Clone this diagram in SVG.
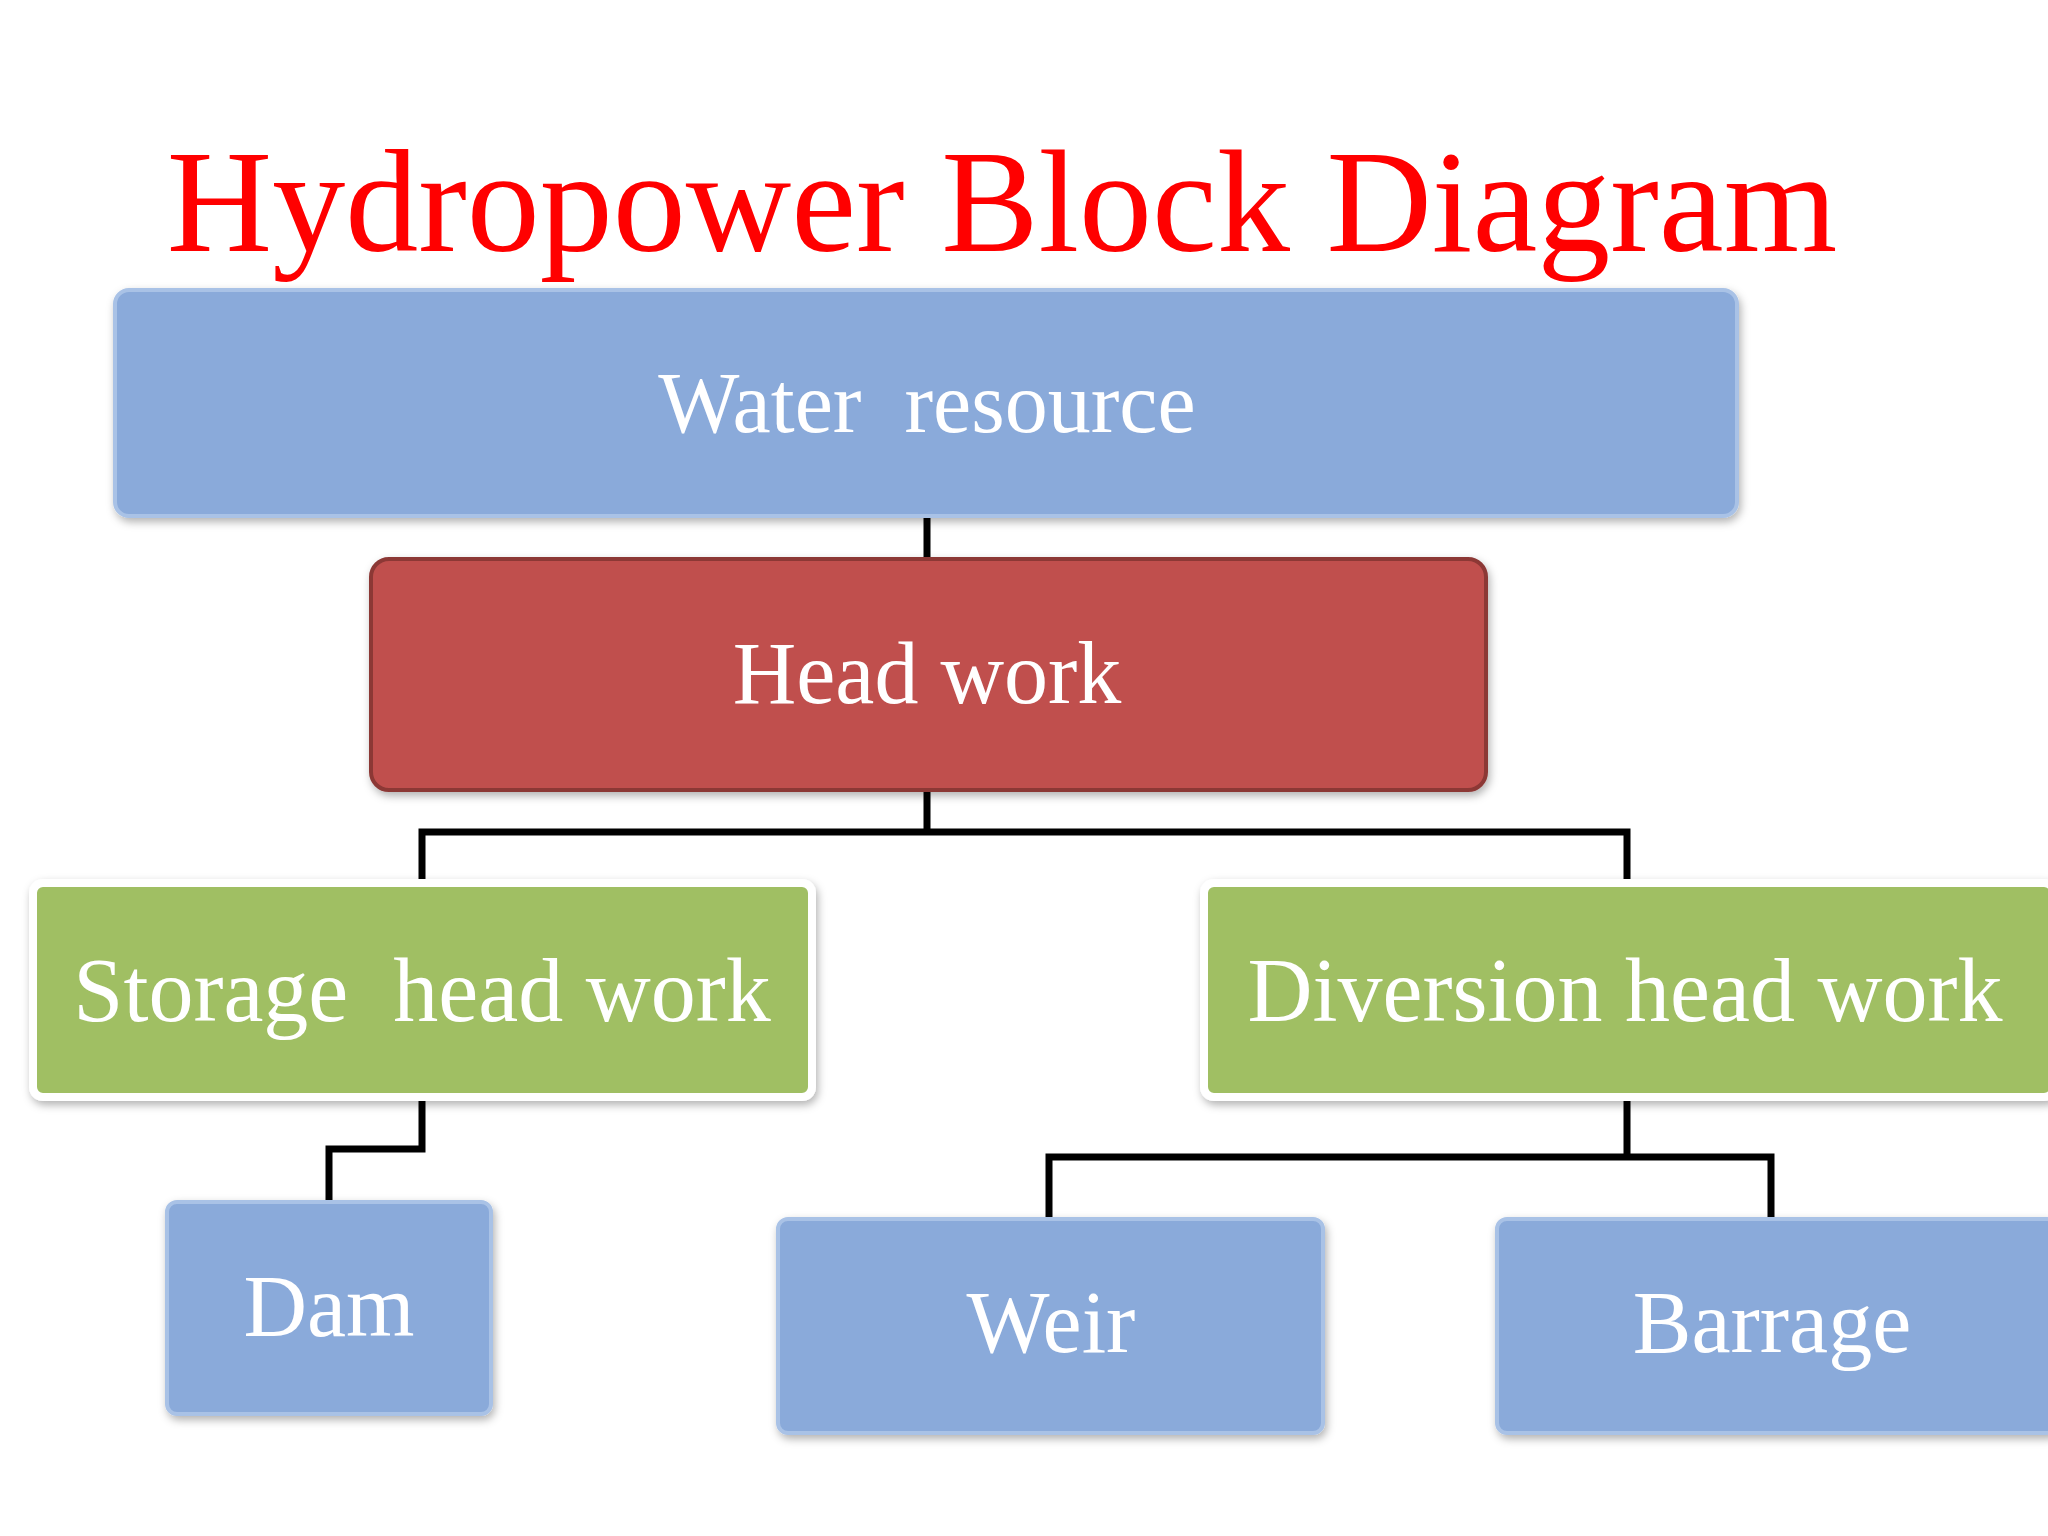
<svg xmlns="http://www.w3.org/2000/svg" width="2048" height="1536" viewBox="0 0 2048 1536">
<defs>
<style>
.t{font-family:"Liberation Serif",serif;fill:#fff;text-anchor:middle;dominant-baseline:central}
.blue{fill:#8AAADA;stroke:#A9C2E6;stroke-width:4}
.green{fill:#A0BF64;stroke:#fff;stroke-width:8}
.c{fill:none;stroke:#000;stroke-width:7}
</style>
<filter id="sh"><feDropShadow dx="2" dy="4" stdDeviation="4" flood-opacity="0.3"/></filter>
</defs>
<rect width="2048" height="1536" fill="#fff"/>
<text x="1002" y="251" font-family="Liberation Serif,serif" font-size="146" fill="#FF0000" text-anchor="middle">Hydropower Block Diagram</text>
<g id="connectors">
<path class="c" d="M927 516V559"/>
<path class="c" d="M927 790V832M422 883V832H1627V883"/>
<path class="c" d="M422 1097V1149H329V1202"/>
<path class="c" d="M1627 1097V1157M1049 1219V1157H1771V1219"/>
</g>
<g id="water"><rect class="blue" x="115" y="290" width="1622" height="226" rx="14" filter="url(#sh)"/><text class="t" x="927" y="403" font-size="86" xml:space="preserve">Water  resource</text></g>
<g id="head"><rect x="371" y="559" width="1115" height="231" rx="18" fill="#C0504D" stroke="#8C3836" stroke-width="4" filter="url(#sh)"/><text class="t" x="927" y="673" font-size="88">Head work</text></g>
<g id="storage"><rect class="green" x="33" y="883" width="779" height="214" rx="10" filter="url(#sh)"/><text class="t" x="422" y="990" font-size="90" xml:space="preserve">Storage  head work</text></g>
<g id="diversion"><rect class="green" x="1204" y="883" width="850" height="214" rx="10" filter="url(#sh)"/><text class="t" x="1625" y="990" font-size="90">Diversion head work</text></g>
<g id="dam"><rect class="blue" x="167" y="1202" width="324" height="212" rx="10" filter="url(#sh)"/><text class="t" x="329" y="1306" font-size="88">Dam</text></g>
<g id="weir"><rect class="blue" x="778" y="1219" width="545" height="214" rx="10" filter="url(#sh)"/><text class="t" x="1051" y="1322" font-size="88">Weir</text></g>
<g id="barrage"><rect class="blue" x="1497" y="1219" width="560" height="214" rx="10" filter="url(#sh)"/><text class="t" x="1772" y="1322" font-size="88">Barrage</text></g>
</svg>
